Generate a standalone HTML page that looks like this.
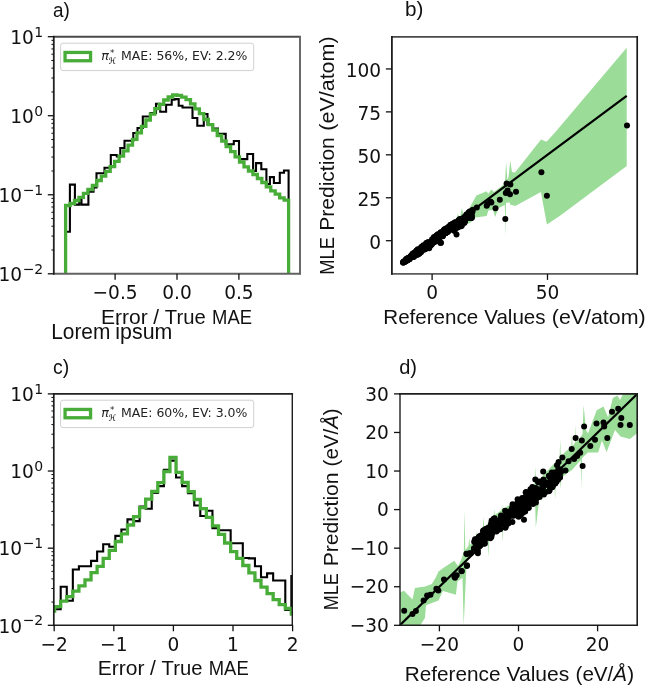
<!DOCTYPE html>
<html><head><meta charset="utf-8"><title>Figure</title>
<style>html,body{margin:0;padding:0;background:#fff;overflow:hidden;}svg{display:block;}</style>
</head><body>
<svg width="646" height="685" viewBox="0 0 646 685">
<rect width="646" height="685" fill="#fff"/>
<clipPath id="clipA"><rect x="53.8" y="36.7" width="246.2" height="237.1"/></clipPath>
<g clip-path="url(#clipA)" fill="none" stroke-linejoin="miter">
<path d="M65.6,275.8 L65.6,231.8 L69.9,231.8 L69.9,184.6 L74.9,184.6 L74.9,204.6 L79.3,204.6 L79.3,200 L81.5,200 L81.5,204.6 L88.4,204.6 L88.4,191.8 L93.5,191.8 L93.5,187.5 L96.5,187.5 L96.5,173.2 L104.5,173.2 L104.5,167.7 L110.8,167.7 L110.8,155 L116.8,155 L116.8,156.4 L120.3,156.4 L120.3,148 L124.5,148 L124.5,140.7 L133.3,140.7 L133.3,133 L137.5,133 L137.5,128 L142.8,128 L142.8,116.5 L150.5,116.5 L150.5,113 L156,113 L156,103.8 L160.2,103.8 L160.2,111.7 L166.1,111.7 L166.1,104.7 L171.7,104.7 L171.7,99.8 L174.5,99.8 L174.5,99.1 L178.7,99.1 L178.7,105.8 L182.5,105.8 L182.5,107.5 L192.5,107.5 L192.5,118 L197.3,118 L197.3,125.7 L203.8,125.7 L203.8,114 L207.5,114 L207.5,124.5 L212.8,124.5 L212.8,128.6 L218,128.6 L218,133.9 L225.7,133.9 L225.7,144.3 L233.8,144.3 L233.8,141 L239,141 L239,159.1 L247.3,159.1 L247.3,154 L253.1,154 L253.1,171 L256,171 L256,163.1 L261.3,163.1 L261.3,169.2 L266.4,169.2 L266.4,184 L269.9,184 L269.9,177.1 L273.9,177.1 L273.9,183 L279.8,183 L279.8,172.8 L284,172.8 L284,170.5 L288.6,170.5 L288.6,275.8" stroke="#000" stroke-width="2.1"/>
<path d="M65.6,275.8 L65.6,205.5 L70.06,205.5 L70.06,203.5 L74.52,203.5 L74.52,200.5 L78.98,200.5 L78.98,197.4 L83.44,197.4 L83.44,193.3 L87.9,193.3 L87.9,189.5 L92.36,189.5 L92.36,185.5 L96.82,185.5 L96.82,180.5 L101.28,180.5 L101.28,176.2 L105.74,176.2 L105.74,171.4 L110.2,171.4 L110.2,166.7 L114.66,166.7 L114.66,161.4 L119.12,161.4 L119.12,156.2 L123.58,156.2 L123.58,150.8 L128.04,150.8 L128.04,145.1 L132.5,145.1 L132.5,139.3 L136.96,139.3 L136.96,132.9 L141.42,132.9 L141.42,126.3 L145.88,126.3 L145.88,120 L150.34,120 L150.34,114.2 L154.8,114.2 L154.8,108.6 L159.26,108.6 L159.26,104.4 L163.72,104.4 L163.72,100 L168.18,100 L168.18,97 L172.64,97 L172.64,95 L177.1,95 L177.1,95.3 L181.56,95.3 L181.56,97.1 L186.02,97.1 L186.02,99.6 L190.48,99.6 L190.48,103.9 L194.94,103.9 L194.94,108.9 L199.4,108.9 L199.4,113.7 L203.86,113.7 L203.86,119.5 L208.32,119.5 L208.32,124.6 L212.78,124.6 L212.78,130 L217.24,130 L217.24,135.5 L221.7,135.5 L221.7,141 L226.16,141 L226.16,146.5 L230.62,146.5 L230.62,151.7 L235.08,151.7 L235.08,156.8 L239.54,156.8 L239.54,162 L244,162 L244,166.9 L248.46,166.9 L248.46,171 L252.92,171 L252.92,174.5 L257.38,174.5 L257.38,178.5 L261.84,178.5 L261.84,182.5 L266.3,182.5 L266.3,186.9 L270.76,186.9 L270.76,190.9 L275.22,190.9 L275.22,194.2 L279.68,194.2 L279.68,197.8 L284.14,197.8 L284.14,200.1 L288.6,200.1 L288.6,275.8" stroke="#48ac38" stroke-width="3.3"/>
</g>
<line x1="53" y1="36.7" x2="300.8" y2="36.7" stroke="#4a4a4a" stroke-width="1.9"/>
<line x1="53" y1="273.8" x2="300.8" y2="273.8" stroke="#626262" stroke-width="1.9"/>
<line x1="53.8" y1="35.9" x2="53.8" y2="274.6" stroke="#222" stroke-width="1.8"/>
<line x1="300" y1="35.9" x2="300" y2="274.6" stroke="#626262" stroke-width="1.9"/>
<line x1="115.1" y1="273.8" x2="115.1" y2="279.8" stroke="#111" stroke-width="1.3"/>
<text transform="translate(115.1 299.2) scale(1 1.035)" text-anchor="middle" font-family="'DejaVu Sans', sans-serif" font-size="18.6" fill="#111">−0.5</text>
<line x1="177" y1="273.8" x2="177" y2="279.8" stroke="#111" stroke-width="1.3"/>
<text transform="translate(177 299.2) scale(1 1.035)" text-anchor="middle" font-family="'DejaVu Sans', sans-serif" font-size="18.6" fill="#111">0.0</text>
<line x1="238.9" y1="273.8" x2="238.9" y2="279.8" stroke="#111" stroke-width="1.3"/>
<text transform="translate(238.9 299.2) scale(1 1.035)" text-anchor="middle" font-family="'DejaVu Sans', sans-serif" font-size="18.6" fill="#111">0.5</text>
<line x1="47.8" y1="36.7" x2="53.8" y2="36.7" stroke="#111" stroke-width="1.3"/>
<text transform="translate(43.2 43.9) scale(1 1.035)" text-anchor="end" font-family="'DejaVu Sans', sans-serif" font-size="18.6" fill="#111">10<tspan dx="0.4" dy="-7.0" font-size="14">1</tspan></text>
<line x1="47.8" y1="115.73" x2="53.8" y2="115.73" stroke="#111" stroke-width="1.3"/>
<text transform="translate(43.2 122.93) scale(1 1.035)" text-anchor="end" font-family="'DejaVu Sans', sans-serif" font-size="18.6" fill="#111">10<tspan dx="0.4" dy="-7.0" font-size="14">0</tspan></text>
<line x1="47.8" y1="194.77" x2="53.8" y2="194.77" stroke="#111" stroke-width="1.3"/>
<text transform="translate(43.2 201.97) scale(1 1.035)" text-anchor="end" font-family="'DejaVu Sans', sans-serif" font-size="18.6" fill="#111">10<tspan dx="0.4" dy="-7.0" font-size="14">−1</tspan></text>
<line x1="47.8" y1="273.8" x2="53.8" y2="273.8" stroke="#111" stroke-width="1.3"/>
<text transform="translate(43.2 281) scale(1 1.035)" text-anchor="end" font-family="'DejaVu Sans', sans-serif" font-size="18.6" fill="#111">10<tspan dx="0.4" dy="-7.0" font-size="14">−2</tspan></text>
<line x1="51.4" y1="250.01" x2="53.8" y2="250.01" stroke="#111" stroke-width="1"/>
<line x1="51.4" y1="236.09" x2="53.8" y2="236.09" stroke="#111" stroke-width="1"/>
<line x1="51.4" y1="226.22" x2="53.8" y2="226.22" stroke="#111" stroke-width="1"/>
<line x1="51.4" y1="218.56" x2="53.8" y2="218.56" stroke="#111" stroke-width="1"/>
<line x1="51.4" y1="212.3" x2="53.8" y2="212.3" stroke="#111" stroke-width="1"/>
<line x1="51.4" y1="207.01" x2="53.8" y2="207.01" stroke="#111" stroke-width="1"/>
<line x1="51.4" y1="202.43" x2="53.8" y2="202.43" stroke="#111" stroke-width="1"/>
<line x1="51.4" y1="198.38" x2="53.8" y2="198.38" stroke="#111" stroke-width="1"/>
<line x1="51.4" y1="170.98" x2="53.8" y2="170.98" stroke="#111" stroke-width="1"/>
<line x1="51.4" y1="157.06" x2="53.8" y2="157.06" stroke="#111" stroke-width="1"/>
<line x1="51.4" y1="147.18" x2="53.8" y2="147.18" stroke="#111" stroke-width="1"/>
<line x1="51.4" y1="139.52" x2="53.8" y2="139.52" stroke="#111" stroke-width="1"/>
<line x1="51.4" y1="133.27" x2="53.8" y2="133.27" stroke="#111" stroke-width="1"/>
<line x1="51.4" y1="127.98" x2="53.8" y2="127.98" stroke="#111" stroke-width="1"/>
<line x1="51.4" y1="123.39" x2="53.8" y2="123.39" stroke="#111" stroke-width="1"/>
<line x1="51.4" y1="119.35" x2="53.8" y2="119.35" stroke="#111" stroke-width="1"/>
<line x1="51.4" y1="91.94" x2="53.8" y2="91.94" stroke="#111" stroke-width="1"/>
<line x1="51.4" y1="78.02" x2="53.8" y2="78.02" stroke="#111" stroke-width="1"/>
<line x1="51.4" y1="68.15" x2="53.8" y2="68.15" stroke="#111" stroke-width="1"/>
<line x1="51.4" y1="60.49" x2="53.8" y2="60.49" stroke="#111" stroke-width="1"/>
<line x1="51.4" y1="54.23" x2="53.8" y2="54.23" stroke="#111" stroke-width="1"/>
<line x1="51.4" y1="48.94" x2="53.8" y2="48.94" stroke="#111" stroke-width="1"/>
<line x1="51.4" y1="44.36" x2="53.8" y2="44.36" stroke="#111" stroke-width="1"/>
<line x1="51.4" y1="40.32" x2="53.8" y2="40.32" stroke="#111" stroke-width="1"/>
<rect x="60.6" y="43.2" width="193.1" height="27.4" rx="2.5" fill="#fff" fill-opacity="0.8" stroke="#d0d0d0" stroke-width="1"/>
<rect x="65.05" y="52.45" width="25.5" height="8.3" fill="none" stroke="#48ac38" stroke-width="3.3"/>
<text x="101.3" y="60.2" font-size="12.6" font-style="italic" font-family="'DejaVu Sans', sans-serif" fill="#222">π</text>
<text x="109.9" y="55.6" font-size="8.8" font-family="'DejaVu Sans', sans-serif" fill="#222">*</text>
<text x="108.7" y="63.9" font-size="9" font-style="italic" font-weight="bold" textLength="7" lengthAdjust="spacingAndGlyphs" font-family="'DejaVu Sans', sans-serif" fill="#222">ℋ</text>
<text x="121.0" y="60.2" font-size="12.6" font-family="'DejaVu Sans', sans-serif" fill="#222" textLength="126.4" lengthAdjust="spacingAndGlyphs">MAE: 56%, EV: 2.2%</text>
<clipPath id="clipB"><rect x="391.9" y="36.9" width="245.3" height="237"/></clipPath>
<g clip-path="url(#clipB)">
<path d="M403,260.5 L440,233.5 L452,223.5 L456,221 L458,213.5 L459.5,219.5 L462,208.2 L463.5,216 L466,210 L467.5,214 L470,207 L476.7,195 L477.7,195.1 L486.6,191.3 L488.3,193.8 L491.3,189.6 L494,192 L501.5,186.2 L505,183 L506.1,161.2 L507.3,180 L508.5,177 L510.3,160.7 L512,172 L515,172.4 L541,139.4 L546.5,141.7 L555,132.4 L626.7,47.7 L626.7,165.9 L560,215.7 L546.9,224.6 L540.9,192.1 L515.3,206 L510.2,204.6 L509.3,202.3 L506,203 L505.4,236.6 L504.8,205 L498.3,208.2 L495.2,217.1 L493,210 L488.3,210.5 L486.7,215.9 L475.1,217.4 L471.3,222.1 L466.6,224.4 L462,226 L440,240 L403,265 Z" fill="#9bdc98"/>
<line x1="403.0" y1="262.3" x2="626.7" y2="95.9" stroke="#000" stroke-width="2.2"/>
<g fill="#000"><circle cx="403.02" cy="262.52" r="3.0"/><circle cx="403.15" cy="262.62" r="3.0"/><circle cx="403.3" cy="261.98" r="3.0"/><circle cx="403.46" cy="262.53" r="3.0"/><circle cx="403.62" cy="261.87" r="3.0"/><circle cx="403.79" cy="261.97" r="3.0"/><circle cx="403.97" cy="262.27" r="3.0"/><circle cx="404.14" cy="261.55" r="3.0"/><circle cx="404.32" cy="262.1" r="3.0"/><circle cx="404.5" cy="261.41" r="3.0"/><circle cx="404.68" cy="261.85" r="3.0"/><circle cx="404.86" cy="261.71" r="3.0"/><circle cx="405.05" cy="261.05" r="3.0"/><circle cx="405.23" cy="260.23" r="3.0"/><circle cx="405.42" cy="261.33" r="3.0"/><circle cx="405.61" cy="261.04" r="3.0"/><circle cx="405.8" cy="260.15" r="3.0"/><circle cx="405.99" cy="259.38" r="3.0"/><circle cx="406.19" cy="259.97" r="3.0"/><circle cx="406.38" cy="260.21" r="3.0"/><circle cx="406.58" cy="258.83" r="3.0"/><circle cx="406.77" cy="260.72" r="3.0"/><circle cx="406.97" cy="258.76" r="3.0"/><circle cx="407.17" cy="259.93" r="3.0"/><circle cx="407.37" cy="260.16" r="3.0"/><circle cx="407.57" cy="260.11" r="3.0"/><circle cx="407.77" cy="259.51" r="3.0"/><circle cx="407.97" cy="258.06" r="3.0"/><circle cx="408.17" cy="259.59" r="3.0"/><circle cx="408.37" cy="258.38" r="3.0"/><circle cx="408.58" cy="258.07" r="3.0"/><circle cx="408.78" cy="258.68" r="3.0"/><circle cx="408.99" cy="258.03" r="3.0"/><circle cx="409.19" cy="259.33" r="3.0"/><circle cx="409.4" cy="259.22" r="3.0"/><circle cx="409.6" cy="258.65" r="3.0"/><circle cx="409.81" cy="257.02" r="3.0"/><circle cx="410.02" cy="257.68" r="3.0"/><circle cx="410.23" cy="257.92" r="3.0"/><circle cx="410.44" cy="256.87" r="3.0"/><circle cx="410.64" cy="257.17" r="3.0"/><circle cx="410.85" cy="257.57" r="3.0"/><circle cx="411.07" cy="255.67" r="3.0"/><circle cx="411.28" cy="255.85" r="3.0"/><circle cx="411.49" cy="257.37" r="3.0"/><circle cx="411.7" cy="255.99" r="3.0"/><circle cx="411.91" cy="256.03" r="3.0"/><circle cx="412.12" cy="254.51" r="3.0"/><circle cx="412.34" cy="254.92" r="3.0"/><circle cx="412.55" cy="256.53" r="3.0"/><circle cx="412.77" cy="253.56" r="3.0"/><circle cx="412.98" cy="256.97" r="3.0"/><circle cx="413.2" cy="255.57" r="3.0"/><circle cx="413.41" cy="253.97" r="3.0"/><circle cx="413.63" cy="256.45" r="3.0"/><circle cx="413.84" cy="254.82" r="3.0"/><circle cx="414.06" cy="256.7" r="3.0"/><circle cx="414.28" cy="253.7" r="3.0"/><circle cx="414.49" cy="253.09" r="3.0"/><circle cx="414.71" cy="253.82" r="3.0"/><circle cx="414.93" cy="252.22" r="3.0"/><circle cx="415.15" cy="254.77" r="3.0"/><circle cx="415.37" cy="252.75" r="3.0"/><circle cx="415.59" cy="253.08" r="3.0"/><circle cx="415.81" cy="253" r="3.0"/><circle cx="416.03" cy="253.47" r="3.0"/><circle cx="416.25" cy="251.32" r="3.0"/><circle cx="416.47" cy="250.59" r="3.0"/><circle cx="416.69" cy="252.92" r="3.0"/><circle cx="416.91" cy="251.74" r="3.0"/><circle cx="417.13" cy="254.89" r="3.0"/><circle cx="417.35" cy="251.2" r="3.0"/><circle cx="417.58" cy="251.34" r="3.0"/><circle cx="417.8" cy="249.2" r="3.0"/><circle cx="418.02" cy="250" r="3.0"/><circle cx="418.24" cy="252.96" r="3.0"/><circle cx="418.47" cy="252.2" r="3.0"/><circle cx="418.69" cy="250.38" r="3.0"/><circle cx="418.92" cy="253.99" r="3.0"/><circle cx="419.14" cy="251.26" r="3.0"/><circle cx="419.36" cy="252.8" r="3.0"/><circle cx="419.59" cy="252.93" r="3.0"/><circle cx="419.81" cy="253.11" r="3.0"/><circle cx="420.04" cy="248.8" r="3.0"/><circle cx="420.27" cy="252.36" r="3.0"/><circle cx="420.49" cy="251.5" r="3.0"/><circle cx="420.72" cy="250.49" r="3.0"/><circle cx="420.94" cy="247.52" r="3.0"/><circle cx="421.17" cy="251.97" r="3.0"/><circle cx="421.4" cy="249.65" r="3.0"/><circle cx="421.63" cy="248.89" r="3.0"/><circle cx="421.85" cy="246.77" r="3.0"/><circle cx="422.08" cy="246.98" r="3.0"/><circle cx="422.31" cy="246.55" r="3.0"/><circle cx="422.54" cy="249.8" r="3.0"/><circle cx="422.77" cy="248.83" r="3.0"/><circle cx="422.99" cy="248.99" r="3.0"/><circle cx="423.22" cy="245.75" r="3.0"/><circle cx="423.45" cy="245.15" r="3.0"/><circle cx="423.68" cy="249.69" r="3.0"/><circle cx="423.91" cy="249.37" r="3.0"/><circle cx="424.14" cy="248.87" r="3.0"/><circle cx="424.37" cy="248.7" r="3.0"/><circle cx="424.6" cy="247.05" r="3.0"/><circle cx="424.83" cy="246.27" r="3.0"/><circle cx="425.06" cy="248.01" r="3.0"/><circle cx="425.3" cy="249.35" r="3.0"/><circle cx="425.53" cy="246.75" r="3.0"/><circle cx="425.76" cy="246.87" r="3.0"/><circle cx="425.99" cy="245.55" r="3.0"/><circle cx="426.22" cy="243.12" r="3.0"/><circle cx="426.45" cy="244.48" r="3.0"/><circle cx="426.69" cy="245.33" r="3.0"/><circle cx="426.92" cy="244.56" r="3.0"/><circle cx="427.15" cy="244.04" r="3.0"/><circle cx="427.38" cy="247.5" r="3.0"/><circle cx="427.62" cy="242.39" r="3.0"/><circle cx="427.85" cy="242.91" r="3.0"/><circle cx="428.08" cy="242.19" r="3.0"/><circle cx="428.32" cy="242.46" r="3.0"/><circle cx="428.55" cy="244.66" r="3.0"/><circle cx="428.79" cy="244.44" r="3.0"/><circle cx="429.02" cy="245.99" r="3.0"/><circle cx="429.26" cy="242.72" r="3.0"/><circle cx="429.49" cy="245.89" r="3.0"/><circle cx="429.72" cy="245.68" r="3.0"/><circle cx="429.96" cy="244.68" r="3.0"/><circle cx="430.2" cy="244.78" r="3.0"/><circle cx="430.43" cy="243.56" r="3.0"/><circle cx="430.67" cy="245.07" r="3.0"/><circle cx="430.9" cy="245.2" r="3.0"/><circle cx="431.14" cy="244.14" r="3.0"/><circle cx="431.37" cy="244.25" r="3.0"/><circle cx="431.61" cy="242.55" r="3.0"/><circle cx="431.85" cy="244.35" r="3.0"/><circle cx="432.08" cy="239.21" r="3.0"/><circle cx="432.32" cy="240.56" r="3.0"/><circle cx="432.56" cy="243.1" r="3.0"/><circle cx="432.8" cy="242.32" r="3.0"/><circle cx="433.03" cy="241.58" r="3.0"/><circle cx="433.27" cy="241.31" r="3.0"/><circle cx="433.51" cy="242.54" r="3.0"/><circle cx="433.75" cy="238.12" r="3.0"/><circle cx="433.98" cy="237.11" r="3.0"/><circle cx="434.22" cy="240.01" r="3.0"/><circle cx="434.46" cy="239.72" r="3.0"/><circle cx="434.7" cy="241.87" r="3.0"/><circle cx="434.94" cy="241.6" r="3.0"/><circle cx="435.18" cy="240.02" r="3.0"/><circle cx="435.42" cy="240.29" r="3.0"/><circle cx="435.66" cy="236.82" r="3.0"/><circle cx="435.9" cy="240.54" r="3.0"/><circle cx="436.13" cy="241.17" r="3.0"/><circle cx="436.37" cy="235.57" r="3.0"/><circle cx="436.61" cy="237.86" r="3.0"/><circle cx="436.85" cy="239.91" r="3.0"/><circle cx="437.09" cy="237.42" r="3.0"/><circle cx="437.33" cy="240.25" r="3.0"/><circle cx="437.58" cy="237.15" r="3.0"/><circle cx="437.82" cy="234.34" r="3.0"/><circle cx="438.06" cy="234.83" r="3.0"/><circle cx="438.3" cy="235.63" r="3.0"/><circle cx="438.54" cy="237.99" r="3.0"/><circle cx="438.78" cy="237.19" r="3.0"/><circle cx="439.02" cy="238.18" r="3.0"/><circle cx="439.26" cy="234.47" r="3.0"/><circle cx="439.5" cy="235.69" r="3.0"/><circle cx="439.75" cy="234.07" r="3.0"/><circle cx="439.99" cy="236.51" r="3.0"/><circle cx="440.23" cy="236.95" r="3.0"/><circle cx="440.47" cy="233.34" r="3.0"/><circle cx="440.72" cy="232.14" r="3.0"/><circle cx="440.96" cy="232.74" r="3.0"/><circle cx="441.2" cy="232.83" r="3.0"/><circle cx="441.44" cy="232.57" r="3.0"/><circle cx="441.69" cy="232.85" r="3.0"/><circle cx="441.93" cy="235.67" r="3.0"/><circle cx="442.17" cy="233.79" r="3.0"/><circle cx="442.42" cy="234.55" r="3.0"/><circle cx="442.66" cy="236.28" r="3.0"/><circle cx="442.9" cy="236.1" r="3.0"/><circle cx="443.15" cy="234.45" r="3.0"/><circle cx="443.39" cy="234.39" r="3.0"/><circle cx="443.64" cy="231.68" r="3.0"/><circle cx="443.88" cy="229.95" r="3.0"/><circle cx="444.12" cy="232.75" r="3.0"/><circle cx="444.37" cy="229.7" r="3.0"/><circle cx="444.61" cy="229.22" r="3.0"/><circle cx="444.86" cy="229.24" r="3.0"/><circle cx="445.1" cy="232.5" r="3.0"/><circle cx="445.35" cy="233.16" r="3.0"/><circle cx="445.59" cy="232.94" r="3.0"/><circle cx="445.84" cy="232.93" r="3.0"/><circle cx="446.08" cy="232.71" r="3.0"/><circle cx="446.33" cy="230.07" r="3.0"/><circle cx="446.57" cy="228.28" r="3.0"/><circle cx="446.82" cy="228.44" r="3.0"/><circle cx="447.07" cy="230.37" r="3.0"/><circle cx="447.31" cy="229.17" r="3.0"/><circle cx="447.56" cy="228.13" r="3.0"/><circle cx="447.8" cy="232.12" r="3.0"/><circle cx="448.05" cy="228.58" r="3.0"/><circle cx="448.3" cy="226.94" r="3.0"/><circle cx="448.54" cy="227.5" r="3.0"/><circle cx="448.79" cy="227.5" r="3.0"/><circle cx="449.04" cy="228.91" r="3.0"/><circle cx="449.28" cy="230.48" r="3.0"/><circle cx="449.53" cy="226.73" r="3.0"/><circle cx="449.78" cy="229.21" r="3.0"/><circle cx="450.03" cy="226.29" r="3.0"/><circle cx="450.27" cy="225.11" r="3.0"/><circle cx="450.52" cy="228.29" r="3.0"/><circle cx="450.77" cy="228.07" r="3.0"/><circle cx="451.02" cy="224.7" r="3.0"/><circle cx="451.27" cy="225.81" r="3.0"/><circle cx="451.51" cy="228.87" r="3.0"/><circle cx="451.76" cy="228.93" r="3.0"/><circle cx="452.01" cy="228.61" r="3.0"/><circle cx="452.26" cy="224.02" r="3.0"/><circle cx="452.51" cy="224.41" r="3.0"/><circle cx="452.76" cy="228.08" r="3.0"/><circle cx="453" cy="225.12" r="3.0"/><circle cx="453.25" cy="223.59" r="3.0"/><circle cx="453.5" cy="226.23" r="3.0"/><circle cx="453.75" cy="228.73" r="3.0"/><circle cx="454" cy="226.81" r="3.0"/><circle cx="454.25" cy="230.28" r="3.0"/><circle cx="454.5" cy="231.12" r="3.0"/><circle cx="454.75" cy="222.55" r="3.0"/><circle cx="455" cy="225.18" r="3.0"/><circle cx="455.25" cy="226.08" r="3.0"/><circle cx="455.5" cy="222.32" r="3.0"/><circle cx="455.75" cy="226.52" r="3.0"/><circle cx="456" cy="222.49" r="3.0"/><circle cx="456.25" cy="222.71" r="3.0"/><circle cx="456.5" cy="227.91" r="3.0"/><circle cx="456.75" cy="227.36" r="3.0"/><circle cx="457" cy="226.82" r="3.0"/><circle cx="457.25" cy="227.09" r="3.0"/><circle cx="457.5" cy="223.87" r="3.0"/><circle cx="457.75" cy="226.55" r="3.0"/><circle cx="458" cy="224.97" r="3.0"/><circle cx="458.25" cy="227.3" r="3.0"/><circle cx="458.5" cy="220.29" r="3.0"/><circle cx="458.75" cy="224.98" r="3.0"/><circle cx="459.01" cy="223.88" r="3.0"/><circle cx="459.26" cy="222.59" r="3.0"/><circle cx="459.51" cy="219.59" r="3.0"/><circle cx="459.76" cy="223.64" r="3.0"/><circle cx="460.01" cy="219.1" r="3.0"/><circle cx="460.26" cy="222.56" r="3.0"/><circle cx="460.52" cy="222.11" r="3.0"/><circle cx="460.77" cy="221.99" r="3.0"/><circle cx="461.02" cy="226.23" r="3.0"/><circle cx="461.27" cy="222.35" r="3.0"/><circle cx="461.52" cy="224.41" r="3.0"/><circle cx="461.78" cy="225.79" r="3.0"/><circle cx="462.03" cy="218.64" r="3.0"/><circle cx="462.28" cy="223.94" r="3.0"/><circle cx="462.54" cy="221.12" r="3.0"/><circle cx="462.79" cy="218.72" r="3.0"/><circle cx="463.04" cy="220.01" r="3.0"/><circle cx="463.29" cy="221.84" r="3.0"/><circle cx="463.55" cy="219.97" r="3.0"/><circle cx="463.8" cy="219.46" r="3.0"/><circle cx="464.05" cy="217.26" r="3.0"/><circle cx="464.31" cy="223.02" r="3.0"/><circle cx="464.56" cy="218.85" r="3.0"/><circle cx="464.81" cy="221.39" r="3.0"/><circle cx="465.07" cy="220.95" r="3.0"/><circle cx="465.32" cy="216.43" r="3.0"/><circle cx="465.58" cy="218.55" r="3.0"/><circle cx="465.83" cy="217.89" r="3.0"/><circle cx="466.08" cy="215.97" r="3.0"/><circle cx="466.34" cy="214.44" r="3.0"/><circle cx="466.59" cy="218.36" r="3.0"/><circle cx="466.85" cy="216.69" r="3.0"/><circle cx="467.1" cy="217.44" r="3.0"/><circle cx="467.36" cy="217.19" r="3.0"/><circle cx="467.61" cy="215.42" r="3.0"/><circle cx="467.86" cy="217.34" r="3.0"/><circle cx="468.12" cy="216.44" r="3.0"/><circle cx="468.37" cy="216.73" r="3.0"/><circle cx="468.63" cy="212.48" r="3.0"/><circle cx="468.88" cy="214.41" r="3.0"/><circle cx="469.14" cy="212.67" r="3.0"/><circle cx="469.39" cy="211.91" r="3.0"/><circle cx="469.65" cy="217.7" r="3.0"/><circle cx="469.91" cy="214.88" r="3.0"/><circle cx="470.16" cy="211.33" r="3.0"/><circle cx="470.42" cy="212.04" r="3.0"/><circle cx="470.67" cy="218.01" r="3.0"/><circle cx="470.93" cy="217.95" r="3.0"/><circle cx="471.18" cy="214.96" r="3.0"/><circle cx="471.44" cy="218" r="3.0"/><circle cx="471.7" cy="216.34" r="3.0"/><circle cx="471.95" cy="217.62" r="3.0"/><circle cx="472.21" cy="212.2" r="3.0"/><circle cx="472.46" cy="211.01" r="3.0"/><circle cx="472.72" cy="209.83" r="3.0"/><circle cx="627" cy="125.5" r="3.0"/><circle cx="541.4" cy="172.2" r="3.0"/><circle cx="546.9" cy="195.8" r="3.0"/><circle cx="505.3" cy="219" r="3.0"/><circle cx="495.5" cy="208.3" r="3.0"/><circle cx="499.8" cy="199.8" r="3.0"/><circle cx="487.5" cy="204.1" r="3.0"/><circle cx="490.4" cy="201.5" r="3.0"/><circle cx="486.7" cy="205.8" r="3.0"/><circle cx="491.4" cy="202.4" r="3.0"/><circle cx="476.8" cy="207.5" r="3.0"/><circle cx="471.7" cy="215.1" r="3.0"/><circle cx="506.6" cy="183.6" r="3.0"/><circle cx="510.4" cy="184.5" r="3.0"/><circle cx="505.8" cy="193" r="3.0"/><circle cx="510" cy="194.3" r="3.0"/><circle cx="507.5" cy="190.4" r="3.0"/><circle cx="516" cy="191.7" r="3.0"/><circle cx="456.5" cy="234.6" r="3.0"/><circle cx="441" cy="242.8" r="3.0"/><circle cx="440.5" cy="242.9" r="3.0"/><circle cx="429.2" cy="248.3" r="3.0"/></g>
</g>
<line x1="391.1" y1="36.9" x2="638" y2="36.9" stroke="#4a4a4a" stroke-width="1.9"/>
<line x1="391.1" y1="273.9" x2="638" y2="273.9" stroke="#5c5c5c" stroke-width="1.9"/>
<line x1="391.9" y1="36.1" x2="391.9" y2="274.7" stroke="#1e1e1e" stroke-width="1.8"/>
<line x1="637.2" y1="36.1" x2="637.2" y2="274.7" stroke="#1a1a1a" stroke-width="1.7"/>
<line x1="432.1" y1="273.9" x2="432.1" y2="279.9" stroke="#111" stroke-width="1.3"/>
<text transform="translate(432.1 299.3) scale(1 1.035)" text-anchor="middle" font-family="'DejaVu Sans', sans-serif" font-size="18.6" fill="#111">0</text>
<line x1="547.5" y1="273.9" x2="547.5" y2="279.9" stroke="#111" stroke-width="1.3"/>
<text transform="translate(547.5 299.3) scale(1 1.035)" text-anchor="middle" font-family="'DejaVu Sans', sans-serif" font-size="18.6" fill="#111">50</text>
<line x1="385.9" y1="240.7" x2="391.9" y2="240.7" stroke="#111" stroke-width="1.3"/>
<text transform="translate(381.1 248.7) scale(1 1.035)" text-anchor="end" font-family="'DejaVu Sans', sans-serif" font-size="18.6" fill="#111">0</text>
<line x1="385.9" y1="197.76" x2="391.9" y2="197.76" stroke="#111" stroke-width="1.3"/>
<text transform="translate(381.1 205.76) scale(1 1.035)" text-anchor="end" font-family="'DejaVu Sans', sans-serif" font-size="18.6" fill="#111">25</text>
<line x1="385.9" y1="154.82" x2="391.9" y2="154.82" stroke="#111" stroke-width="1.3"/>
<text transform="translate(381.1 162.82) scale(1 1.035)" text-anchor="end" font-family="'DejaVu Sans', sans-serif" font-size="18.6" fill="#111">50</text>
<line x1="385.9" y1="111.88" x2="391.9" y2="111.88" stroke="#111" stroke-width="1.3"/>
<text transform="translate(381.1 119.88) scale(1 1.035)" text-anchor="end" font-family="'DejaVu Sans', sans-serif" font-size="18.6" fill="#111">75</text>
<line x1="385.9" y1="68.94" x2="391.9" y2="68.94" stroke="#111" stroke-width="1.3"/>
<text transform="translate(381.1 76.94) scale(1 1.035)" text-anchor="end" font-family="'DejaVu Sans', sans-serif" font-size="18.6" fill="#111">100</text>
<clipPath id="clipC"><rect x="53.8" y="393.9" width="238.5" height="231.4"/></clipPath>
<g clip-path="url(#clipC)" fill="none" stroke-linejoin="miter">
<path d="M46.63,610 L54.63,610 L54.63,609.3 L60.7,609.3 L60.7,586.7 L66.77,586.7 L66.77,600.7 L72.84,600.7 L72.84,569.5 L78.91,569.5 L78.91,566.3 L84.98,566.3 L84.98,566.3 L91.05,566.3 L91.05,560.9 L97.12,560.9 L97.12,551.5 L103.19,551.5 L103.19,544.3 L109.26,544.3 L109.26,546.7 L115.33,546.7 L115.33,535.9 L121.4,535.9 L121.4,529.5 L127.47,529.5 L127.47,519.4 L133.54,519.4 L133.54,521.1 L139.61,521.1 L139.61,506.5 L145.68,506.5 L145.68,508.7 L151.75,508.7 L151.75,493 L157.82,493 L157.82,486.1 L163.89,486.1 L163.89,469.7 L169.96,469.7 L169.96,460.6 L176.03,460.6 L176.03,477.5 L182.1,477.5 L182.1,486.1 L188.17,486.1 L188.17,493.1 L194.24,493.1 L194.24,505.5 L200.31,505.5 L200.31,516 L206.38,516 L206.38,510.8 L212.45,510.8 L212.45,528.1 L218.52,528.1 L218.52,530.3 L224.59,530.3 L224.59,530.3 L230.66,530.3 L230.66,543.2 L236.73,543.2 L236.73,543.2 L242.8,543.2 L242.8,558 L248.87,558 L248.87,558.4 L254.94,558.4 L254.94,566.3 L261.01,566.3 L261.01,577.2 L267.08,577.2 L267.08,573.4 L273.15,573.4 L273.15,580.5 L279.22,580.5 L279.22,580.5 L285.29,580.5 L285.29,610 L291.36,610 L291.36,576 L297.43,576" stroke="#000" stroke-width="2.1"/>
<path d="M46.63,611 L54.63,611 L54.63,606.6 L60.7,606.6 L60.7,601.1 L66.77,601.1 L66.77,596.6 L72.84,596.6 L72.84,591.2 L78.91,591.2 L78.91,585.8 L84.98,585.8 L84.98,579.9 L91.05,579.9 L91.05,572.6 L97.12,572.6 L97.12,566.4 L103.19,566.4 L103.19,558.4 L109.26,558.4 L109.26,550.3 L115.33,550.3 L115.33,541.5 L121.4,541.5 L121.4,533.9 L127.47,533.9 L127.47,525 L133.54,525 L133.54,516.7 L139.61,516.7 L139.61,507.6 L145.68,507.6 L145.68,499.2 L151.75,499.2 L151.75,491.5 L157.82,491.5 L157.82,482.7 L163.89,482.7 L163.89,471.5 L169.96,471.5 L169.96,457.3 L176.03,457.3 L176.03,472.3 L182.1,472.3 L182.1,482.5 L188.17,482.5 L188.17,491.6 L194.24,491.6 L194.24,499.5 L200.31,499.5 L200.31,508.7 L206.38,508.7 L206.38,517.4 L212.45,517.4 L212.45,525.8 L218.52,525.8 L218.52,534.3 L224.59,534.3 L224.59,543 L230.66,543 L230.66,551.6 L236.73,551.6 L236.73,558.4 L242.8,558.4 L242.8,565.5 L248.87,565.5 L248.87,572.8 L254.94,572.8 L254.94,580.5 L261.01,580.5 L261.01,587.1 L267.08,587.1 L267.08,593.7 L273.15,593.7 L273.15,599.7 L279.22,599.7 L279.22,604.6 L285.29,604.6 L285.29,608.5 L291.36,608.5 L291.36,614 L297.43,614" stroke="#48ac38" stroke-width="3.3"/>
</g>
<line x1="53" y1="393.9" x2="293.1" y2="393.9" stroke="#222" stroke-width="1.7"/>
<line x1="53" y1="625.3" x2="293.1" y2="625.3" stroke="#1e1e1e" stroke-width="1.4"/>
<line x1="53.8" y1="393.1" x2="53.8" y2="626.1" stroke="#1e1e1e" stroke-width="1.7"/>
<line x1="292.3" y1="393.1" x2="292.3" y2="626.1" stroke="#1e1e1e" stroke-width="1.4"/>
<line x1="54.2" y1="625.3" x2="54.2" y2="631.3" stroke="#111" stroke-width="1.3"/>
<text transform="translate(54.2 651.2) scale(1 1.035)" text-anchor="middle" font-family="'DejaVu Sans', sans-serif" font-size="18.6" fill="#111">−2</text>
<line x1="113.8" y1="625.3" x2="113.8" y2="631.3" stroke="#111" stroke-width="1.3"/>
<text transform="translate(113.8 651.2) scale(1 1.035)" text-anchor="middle" font-family="'DejaVu Sans', sans-serif" font-size="18.6" fill="#111">−1</text>
<line x1="173.4" y1="625.3" x2="173.4" y2="631.3" stroke="#111" stroke-width="1.3"/>
<text transform="translate(173.4 651.2) scale(1 1.035)" text-anchor="middle" font-family="'DejaVu Sans', sans-serif" font-size="18.6" fill="#111">0</text>
<line x1="233" y1="625.3" x2="233" y2="631.3" stroke="#111" stroke-width="1.3"/>
<text transform="translate(233 651.2) scale(1 1.035)" text-anchor="middle" font-family="'DejaVu Sans', sans-serif" font-size="18.6" fill="#111">1</text>
<line x1="292.6" y1="625.3" x2="292.6" y2="631.3" stroke="#111" stroke-width="1.3"/>
<text transform="translate(292.6 651.2) scale(1 1.035)" text-anchor="middle" font-family="'DejaVu Sans', sans-serif" font-size="18.6" fill="#111">2</text>
<line x1="47.8" y1="393.9" x2="53.8" y2="393.9" stroke="#111" stroke-width="1.3"/>
<text transform="translate(43.2 401.1) scale(1 1.035)" text-anchor="end" font-family="'DejaVu Sans', sans-serif" font-size="18.6" fill="#111">10<tspan dx="0.4" dy="-7.0" font-size="14">1</tspan></text>
<line x1="47.8" y1="471.03" x2="53.8" y2="471.03" stroke="#111" stroke-width="1.3"/>
<text transform="translate(43.2 478.23) scale(1 1.035)" text-anchor="end" font-family="'DejaVu Sans', sans-serif" font-size="18.6" fill="#111">10<tspan dx="0.4" dy="-7.0" font-size="14">0</tspan></text>
<line x1="47.8" y1="548.17" x2="53.8" y2="548.17" stroke="#111" stroke-width="1.3"/>
<text transform="translate(43.2 555.37) scale(1 1.035)" text-anchor="end" font-family="'DejaVu Sans', sans-serif" font-size="18.6" fill="#111">10<tspan dx="0.4" dy="-7.0" font-size="14">−1</tspan></text>
<line x1="47.8" y1="625.3" x2="53.8" y2="625.3" stroke="#111" stroke-width="1.3"/>
<text transform="translate(43.2 632.5) scale(1 1.035)" text-anchor="end" font-family="'DejaVu Sans', sans-serif" font-size="18.6" fill="#111">10<tspan dx="0.4" dy="-7.0" font-size="14">−2</tspan></text>
<line x1="51.4" y1="602.08" x2="53.8" y2="602.08" stroke="#111" stroke-width="1"/>
<line x1="51.4" y1="588.5" x2="53.8" y2="588.5" stroke="#111" stroke-width="1"/>
<line x1="51.4" y1="578.86" x2="53.8" y2="578.86" stroke="#111" stroke-width="1"/>
<line x1="51.4" y1="571.39" x2="53.8" y2="571.39" stroke="#111" stroke-width="1"/>
<line x1="51.4" y1="565.28" x2="53.8" y2="565.28" stroke="#111" stroke-width="1"/>
<line x1="51.4" y1="560.11" x2="53.8" y2="560.11" stroke="#111" stroke-width="1"/>
<line x1="51.4" y1="555.64" x2="53.8" y2="555.64" stroke="#111" stroke-width="1"/>
<line x1="51.4" y1="551.7" x2="53.8" y2="551.7" stroke="#111" stroke-width="1"/>
<line x1="51.4" y1="524.95" x2="53.8" y2="524.95" stroke="#111" stroke-width="1"/>
<line x1="51.4" y1="511.36" x2="53.8" y2="511.36" stroke="#111" stroke-width="1"/>
<line x1="51.4" y1="501.73" x2="53.8" y2="501.73" stroke="#111" stroke-width="1"/>
<line x1="51.4" y1="494.25" x2="53.8" y2="494.25" stroke="#111" stroke-width="1"/>
<line x1="51.4" y1="488.15" x2="53.8" y2="488.15" stroke="#111" stroke-width="1"/>
<line x1="51.4" y1="482.98" x2="53.8" y2="482.98" stroke="#111" stroke-width="1"/>
<line x1="51.4" y1="478.51" x2="53.8" y2="478.51" stroke="#111" stroke-width="1"/>
<line x1="51.4" y1="474.56" x2="53.8" y2="474.56" stroke="#111" stroke-width="1"/>
<line x1="51.4" y1="447.81" x2="53.8" y2="447.81" stroke="#111" stroke-width="1"/>
<line x1="51.4" y1="434.23" x2="53.8" y2="434.23" stroke="#111" stroke-width="1"/>
<line x1="51.4" y1="424.59" x2="53.8" y2="424.59" stroke="#111" stroke-width="1"/>
<line x1="51.4" y1="417.12" x2="53.8" y2="417.12" stroke="#111" stroke-width="1"/>
<line x1="51.4" y1="411.01" x2="53.8" y2="411.01" stroke="#111" stroke-width="1"/>
<line x1="51.4" y1="405.85" x2="53.8" y2="405.85" stroke="#111" stroke-width="1"/>
<line x1="51.4" y1="401.37" x2="53.8" y2="401.37" stroke="#111" stroke-width="1"/>
<line x1="51.4" y1="397.43" x2="53.8" y2="397.43" stroke="#111" stroke-width="1"/>
<rect x="60.6" y="400.2" width="193.1" height="27.4" rx="2.5" fill="#fff" fill-opacity="0.8" stroke="#d0d0d0" stroke-width="1"/>
<rect x="65.05" y="409.45" width="25.5" height="8.3" fill="none" stroke="#48ac38" stroke-width="3.3"/>
<text x="101.3" y="417.2" font-size="12.6" font-style="italic" font-family="'DejaVu Sans', sans-serif" fill="#222">π</text>
<text x="109.9" y="412.6" font-size="8.8" font-family="'DejaVu Sans', sans-serif" fill="#222">*</text>
<text x="108.7" y="420.9" font-size="9" font-style="italic" font-weight="bold" textLength="7" lengthAdjust="spacingAndGlyphs" font-family="'DejaVu Sans', sans-serif" fill="#222">ℋ</text>
<text x="121.0" y="417.2" font-size="12.6" font-family="'DejaVu Sans', sans-serif" fill="#222" textLength="126.4" lengthAdjust="spacingAndGlyphs">MAE: 60%, EV: 3.0%</text>
<clipPath id="clipD"><rect x="400" y="393.9" width="237.2" height="231.4"/></clipPath>
<g clip-path="url(#clipD)">
<path d="M399,592.8 L403.9,590.8 L412.5,599.5 L414.9,587.9 L425,586.5 L431.8,584.1 L435.6,577.8 L438.5,571.6 L442.9,568.2 L444,567.6 L454.2,560.8 L458,566 L461,560 L463.8,552 L464.6,509.4 L465.3,550 L468.5,546 L469.2,537.8 L470,545 L475.5,540 L476.3,531.3 L477,538 L482.7,530 L483.4,517 L484.2,528 L493.6,516 L494.2,509.2 L494.8,515 L501.5,510 L502,504.8 L502.6,509 L520,499 L534.6,484 L535.3,466.3 L536,483 L550,468 L559.6,458 L560.2,438.7 L560.8,457 L565,452 L571.3,447 L571.9,433.6 L572.5,446 L575,443 L575.5,424.1 L576.1,442 L580,438 L582.5,434 L583.6,405.1 L586,430 L588,433.6 L596.7,410.2 L603.5,406.4 L608.1,417.2 L612.8,397.9 L617.4,395.5 L620,400 L624,392 L640,380 L640,431 L629.8,438.9 L620.5,436.6 L615,430 L606.6,452 L601.9,440.4 L598.2,452.6 L588,452.6 L582,458 L581.4,489 L580.8,460 L572,470 L567.5,473 L561,478 L560.2,489 L559.6,479 L555.7,484 L555.1,500 L554.5,486 L550,490 L545,492 L540,494 L535.8,527.6 L535,497 L520,511 L503,527 L502.5,543.4 L502,528 L489,540 L488.3,557.4 L487.6,541 L476,551 L470,556 L467,562 L466,575 L463.7,626 L462.5,578 L457.6,581.1 L455.9,594.7 L444,591.3 L442.9,590.8 L438.5,600.5 L426,605.3 L425,617.8 L419.3,627 L399,627 Z" fill="#9bdc98"/>
<line x1="399.8" y1="625.3" x2="637.3" y2="393.9" stroke="#000" stroke-width="2.2"/>
<g fill="#000"><circle cx="512.38" cy="522" r="3.0"/><circle cx="513.53" cy="515.48" r="3.0"/><circle cx="517.2" cy="511.16" r="3.0"/><circle cx="517.56" cy="509.93" r="3.0"/><circle cx="527.82" cy="499.42" r="3.0"/><circle cx="499.42" cy="525.39" r="3.0"/><circle cx="480.91" cy="536.34" r="3.0"/><circle cx="476.66" cy="547.45" r="3.0"/><circle cx="558.48" cy="469.97" r="3.0"/><circle cx="526.58" cy="502.39" r="3.0"/><circle cx="486.72" cy="528.6" r="3.0"/><circle cx="478.2" cy="540.57" r="3.0"/><circle cx="489.57" cy="531.6" r="3.0"/><circle cx="513.38" cy="510.82" r="3.0"/><circle cx="511.35" cy="510.66" r="3.0"/><circle cx="528.73" cy="503.68" r="3.0"/><circle cx="516.5" cy="511.89" r="3.0"/><circle cx="497.22" cy="529.49" r="3.0"/><circle cx="559.82" cy="469.47" r="3.0"/><circle cx="534.6" cy="494.55" r="3.0"/><circle cx="500.45" cy="522.17" r="3.0"/><circle cx="479.13" cy="536.67" r="3.0"/><circle cx="539.69" cy="497.07" r="3.0"/><circle cx="506.65" cy="512.47" r="3.0"/><circle cx="556.38" cy="476.19" r="3.0"/><circle cx="491.27" cy="530.37" r="3.0"/><circle cx="552.22" cy="487.13" r="3.0"/><circle cx="507.6" cy="514.38" r="3.0"/><circle cx="479.37" cy="545.4" r="3.0"/><circle cx="496.49" cy="531.51" r="3.0"/><circle cx="480.6" cy="544.76" r="3.0"/><circle cx="538.97" cy="481.44" r="3.0"/><circle cx="483.28" cy="536.82" r="3.0"/><circle cx="478.23" cy="539.01" r="3.0"/><circle cx="542.37" cy="485.4" r="3.0"/><circle cx="511.95" cy="508" r="3.0"/><circle cx="489.61" cy="531.89" r="3.0"/><circle cx="529.03" cy="501.28" r="3.0"/><circle cx="483.15" cy="539.67" r="3.0"/><circle cx="496.49" cy="524.45" r="3.0"/><circle cx="557.5" cy="474.1" r="3.0"/><circle cx="550.01" cy="485.12" r="3.0"/><circle cx="491.35" cy="537.03" r="3.0"/><circle cx="528.86" cy="493.71" r="3.0"/><circle cx="481.75" cy="535.07" r="3.0"/><circle cx="495.49" cy="526.95" r="3.0"/><circle cx="540.25" cy="491.41" r="3.0"/><circle cx="479.4" cy="536.81" r="3.0"/><circle cx="480.86" cy="541.75" r="3.0"/><circle cx="525.34" cy="503.65" r="3.0"/><circle cx="505.36" cy="527.82" r="3.0"/><circle cx="515.11" cy="507.23" r="3.0"/><circle cx="523.01" cy="502.05" r="3.0"/><circle cx="486.43" cy="536.35" r="3.0"/><circle cx="552.06" cy="478.46" r="3.0"/><circle cx="489.53" cy="534.74" r="3.0"/><circle cx="537.35" cy="489.31" r="3.0"/><circle cx="555.69" cy="477.92" r="3.0"/><circle cx="549.78" cy="485.44" r="3.0"/><circle cx="482.05" cy="540.69" r="3.0"/><circle cx="476.38" cy="539.4" r="3.0"/><circle cx="534.32" cy="495.32" r="3.0"/><circle cx="495.38" cy="524.17" r="3.0"/><circle cx="498.55" cy="529.56" r="3.0"/><circle cx="488.28" cy="533.03" r="3.0"/><circle cx="492.89" cy="530.55" r="3.0"/><circle cx="521.69" cy="501.36" r="3.0"/><circle cx="497.4" cy="530.06" r="3.0"/><circle cx="552.84" cy="478.98" r="3.0"/><circle cx="496.44" cy="525.18" r="3.0"/><circle cx="511.8" cy="510.66" r="3.0"/><circle cx="505.11" cy="517.75" r="3.0"/><circle cx="522.8" cy="501.26" r="3.0"/><circle cx="550.54" cy="478.02" r="3.0"/><circle cx="558.33" cy="478.41" r="3.0"/><circle cx="523.87" cy="508.89" r="3.0"/><circle cx="485.23" cy="534.43" r="3.0"/><circle cx="552.22" cy="479.54" r="3.0"/><circle cx="534.01" cy="493.92" r="3.0"/><circle cx="528.37" cy="499.7" r="3.0"/><circle cx="514.98" cy="511.07" r="3.0"/><circle cx="559.97" cy="477.15" r="3.0"/><circle cx="479.57" cy="546.04" r="3.0"/><circle cx="551.34" cy="482.52" r="3.0"/><circle cx="537.15" cy="494.47" r="3.0"/><circle cx="552.63" cy="486.6" r="3.0"/><circle cx="503.63" cy="523.78" r="3.0"/><circle cx="548.81" cy="491.3" r="3.0"/><circle cx="509.31" cy="513.06" r="3.0"/><circle cx="522.86" cy="512.63" r="3.0"/><circle cx="527.4" cy="504.63" r="3.0"/><circle cx="526" cy="497.51" r="3.0"/><circle cx="480" cy="545.83" r="3.0"/><circle cx="549.57" cy="490.53" r="3.0"/><circle cx="536.38" cy="498.38" r="3.0"/><circle cx="523.57" cy="498.81" r="3.0"/><circle cx="511.35" cy="512.62" r="3.0"/><circle cx="538.29" cy="492.84" r="3.0"/><circle cx="475.61" cy="547.31" r="3.0"/><circle cx="493.05" cy="531.79" r="3.0"/><circle cx="533.78" cy="501.13" r="3.0"/><circle cx="553.11" cy="478.88" r="3.0"/><circle cx="495.28" cy="523.18" r="3.0"/><circle cx="532.02" cy="496.2" r="3.0"/><circle cx="490.64" cy="526.1" r="3.0"/><circle cx="530.44" cy="489.34" r="3.0"/><circle cx="511.47" cy="510.43" r="3.0"/><circle cx="530.96" cy="499.83" r="3.0"/><circle cx="490.29" cy="538.34" r="3.0"/><circle cx="552.56" cy="476.06" r="3.0"/><circle cx="549.61" cy="486.27" r="3.0"/><circle cx="500.56" cy="518.65" r="3.0"/><circle cx="484.87" cy="543.45" r="3.0"/><circle cx="546.86" cy="483.97" r="3.0"/><circle cx="534.9" cy="490.68" r="3.0"/><circle cx="487.73" cy="534.28" r="3.0"/><circle cx="512.23" cy="513.35" r="3.0"/><circle cx="509.04" cy="512.47" r="3.0"/><circle cx="527.46" cy="504.1" r="3.0"/><circle cx="546.03" cy="484.7" r="3.0"/><circle cx="558.46" cy="476.21" r="3.0"/><circle cx="475.76" cy="542.59" r="3.0"/><circle cx="548.96" cy="475.69" r="3.0"/><circle cx="522.66" cy="502.42" r="3.0"/><circle cx="499.91" cy="522.86" r="3.0"/><circle cx="484.84" cy="536.42" r="3.0"/><circle cx="512.59" cy="504.32" r="3.0"/><circle cx="493.67" cy="526.96" r="3.0"/><circle cx="485.27" cy="529.23" r="3.0"/><circle cx="511.87" cy="511.35" r="3.0"/><circle cx="527.83" cy="504.46" r="3.0"/><circle cx="556.41" cy="481.75" r="3.0"/><circle cx="532.58" cy="494.43" r="3.0"/><circle cx="488.56" cy="527.7" r="3.0"/><circle cx="473.95" cy="548.77" r="3.0"/><circle cx="488.6" cy="531.24" r="3.0"/><circle cx="496.72" cy="529.61" r="3.0"/><circle cx="518.3" cy="502.18" r="3.0"/><circle cx="526.48" cy="500.88" r="3.0"/><circle cx="541.92" cy="492.69" r="3.0"/><circle cx="551.87" cy="472.44" r="3.0"/><circle cx="535.87" cy="487.9" r="3.0"/><circle cx="484.32" cy="541.96" r="3.0"/><circle cx="552.19" cy="477.95" r="3.0"/><circle cx="505.8" cy="526.48" r="3.0"/><circle cx="542.34" cy="491.73" r="3.0"/><circle cx="555.18" cy="483.33" r="3.0"/><circle cx="490.85" cy="529.14" r="3.0"/><circle cx="535.83" cy="490.66" r="3.0"/><circle cx="535.46" cy="499.39" r="3.0"/><circle cx="491.58" cy="520.73" r="3.0"/><circle cx="558.06" cy="479.63" r="3.0"/><circle cx="519.74" cy="505.66" r="3.0"/><circle cx="552.2" cy="483.51" r="3.0"/><circle cx="547.48" cy="484.72" r="3.0"/><circle cx="511.38" cy="512.07" r="3.0"/><circle cx="520.9" cy="505.1" r="3.0"/><circle cx="475.49" cy="548.03" r="3.0"/><circle cx="543.42" cy="479.69" r="3.0"/><circle cx="488.06" cy="529.79" r="3.0"/><circle cx="502.17" cy="520.64" r="3.0"/><circle cx="485.95" cy="537.02" r="3.0"/><circle cx="517.96" cy="509.52" r="3.0"/><circle cx="533" cy="504.03" r="3.0"/><circle cx="555.31" cy="483.17" r="3.0"/><circle cx="480.5" cy="538.66" r="3.0"/><circle cx="492.28" cy="533.02" r="3.0"/><circle cx="536.43" cy="493.42" r="3.0"/><circle cx="528.61" cy="507.75" r="3.0"/><circle cx="521.74" cy="506.2" r="3.0"/><circle cx="500.14" cy="529.18" r="3.0"/><circle cx="551.37" cy="474.6" r="3.0"/><circle cx="491.14" cy="523.45" r="3.0"/><circle cx="518.63" cy="516.82" r="3.0"/><circle cx="522.87" cy="502.38" r="3.0"/><circle cx="516.8" cy="503.84" r="3.0"/><circle cx="525.68" cy="492.46" r="3.0"/><circle cx="517.92" cy="506.12" r="3.0"/><circle cx="507.87" cy="514.68" r="3.0"/><circle cx="515.74" cy="515.37" r="3.0"/><circle cx="533.14" cy="490.48" r="3.0"/><circle cx="509.02" cy="513.31" r="3.0"/><circle cx="556.27" cy="473.24" r="3.0"/><circle cx="514.19" cy="512.87" r="3.0"/><circle cx="484.06" cy="543.68" r="3.0"/><circle cx="551.37" cy="477.12" r="3.0"/><circle cx="514.48" cy="512.19" r="3.0"/><circle cx="526.78" cy="498.17" r="3.0"/><circle cx="553.53" cy="473.34" r="3.0"/><circle cx="475" cy="539.2" r="3.0"/><circle cx="489.91" cy="530.41" r="3.0"/><circle cx="501.04" cy="515.45" r="3.0"/><circle cx="503.94" cy="521.27" r="3.0"/><circle cx="536.61" cy="494.08" r="3.0"/><circle cx="483.7" cy="539.88" r="3.0"/><circle cx="490.22" cy="531.33" r="3.0"/><circle cx="519.16" cy="511.09" r="3.0"/><circle cx="508.99" cy="513.89" r="3.0"/><circle cx="519.08" cy="505.58" r="3.0"/><circle cx="527.95" cy="497.31" r="3.0"/><circle cx="528.57" cy="507.83" r="3.0"/><circle cx="526.24" cy="502.86" r="3.0"/><circle cx="547.56" cy="482.79" r="3.0"/><circle cx="543.54" cy="479.67" r="3.0"/><circle cx="551.56" cy="481.82" r="3.0"/><circle cx="553.31" cy="475.29" r="3.0"/><circle cx="492" cy="520.38" r="3.0"/><circle cx="484.67" cy="535.81" r="3.0"/><circle cx="493.84" cy="528.61" r="3.0"/><circle cx="481.46" cy="541.78" r="3.0"/><circle cx="545.42" cy="492.26" r="3.0"/><circle cx="483.98" cy="532.58" r="3.0"/><circle cx="508.06" cy="516.66" r="3.0"/><circle cx="490.5" cy="531.65" r="3.0"/><circle cx="532.39" cy="486.9" r="3.0"/><circle cx="483.06" cy="543.21" r="3.0"/><circle cx="517.02" cy="508.63" r="3.0"/><circle cx="532.68" cy="501.15" r="3.0"/><circle cx="489.46" cy="529.84" r="3.0"/><circle cx="476.27" cy="541.77" r="3.0"/><circle cx="521.02" cy="511.31" r="3.0"/><circle cx="485.77" cy="535.34" r="3.0"/><circle cx="489.07" cy="529.64" r="3.0"/><circle cx="559.18" cy="469.71" r="3.0"/><circle cx="553.67" cy="477.21" r="3.0"/><circle cx="555.81" cy="475.85" r="3.0"/><circle cx="513.22" cy="511.68" r="3.0"/><circle cx="513.65" cy="515.62" r="3.0"/><circle cx="517.85" cy="513.65" r="3.0"/><circle cx="474.17" cy="541.86" r="3.0"/><circle cx="534.01" cy="493.25" r="3.0"/><circle cx="512.52" cy="514.96" r="3.0"/><circle cx="537.35" cy="494.47" r="3.0"/><circle cx="487.38" cy="531.83" r="3.0"/><circle cx="517.62" cy="499.15" r="3.0"/><circle cx="542.77" cy="486.64" r="3.0"/><circle cx="534.33" cy="490.54" r="3.0"/><circle cx="508.21" cy="521" r="3.0"/><circle cx="525.19" cy="511.38" r="3.0"/><circle cx="543.05" cy="487.67" r="3.0"/><circle cx="495.49" cy="520.53" r="3.0"/><circle cx="540.71" cy="493.14" r="3.0"/><circle cx="543.9" cy="494.45" r="3.0"/><circle cx="549.57" cy="476.64" r="3.0"/><circle cx="533.47" cy="494.44" r="3.0"/><circle cx="508.32" cy="523.62" r="3.0"/><circle cx="535.89" cy="489.59" r="3.0"/><circle cx="513.81" cy="509.82" r="3.0"/><circle cx="473.94" cy="548.51" r="3.0"/><circle cx="527.31" cy="495.38" r="3.0"/><circle cx="493.21" cy="522.46" r="3.0"/><circle cx="502.41" cy="523.25" r="3.0"/><circle cx="530.42" cy="502.75" r="3.0"/><circle cx="506.92" cy="519.59" r="3.0"/><circle cx="560.02" cy="477.12" r="3.0"/><circle cx="539.3" cy="495.81" r="3.0"/><circle cx="558.29" cy="470.04" r="3.0"/><circle cx="537.3" cy="491.21" r="3.0"/><circle cx="495.35" cy="528.03" r="3.0"/><circle cx="490.02" cy="530.45" r="3.0"/><circle cx="505.71" cy="515.53" r="3.0"/><circle cx="551.82" cy="478.1" r="3.0"/><circle cx="520.88" cy="514.96" r="3.0"/><circle cx="522.44" cy="504.98" r="3.0"/><circle cx="559.6" cy="477.65" r="3.0"/><circle cx="479.65" cy="546" r="3.0"/><circle cx="525.01" cy="502.2" r="3.0"/><circle cx="553.95" cy="479.63" r="3.0"/><circle cx="486.93" cy="536.5" r="3.0"/><circle cx="516.13" cy="509.16" r="3.0"/><circle cx="526.2" cy="492.04" r="3.0"/><circle cx="509.62" cy="511.19" r="3.0"/><circle cx="518.85" cy="510.84" r="3.0"/><circle cx="497.88" cy="527.2" r="3.0"/><circle cx="530.02" cy="501.49" r="3.0"/><circle cx="535.37" cy="495.04" r="3.0"/><circle cx="498.78" cy="520.71" r="3.0"/><circle cx="476.74" cy="542" r="3.0"/><circle cx="486.64" cy="533.95" r="3.0"/><circle cx="551.11" cy="485.05" r="3.0"/><circle cx="538.13" cy="482.14" r="3.0"/><circle cx="555.19" cy="473.13" r="3.0"/><circle cx="479.41" cy="536.18" r="3.0"/><circle cx="514.57" cy="513.55" r="3.0"/><circle cx="557.69" cy="474.97" r="3.0"/><circle cx="554.57" cy="472.38" r="3.0"/><circle cx="535.9" cy="502.5" r="3.0"/><circle cx="544.08" cy="484.04" r="3.0"/><circle cx="525.54" cy="497.18" r="3.0"/><circle cx="512.67" cy="508.4" r="3.0"/><circle cx="490.74" cy="525.54" r="3.0"/><circle cx="483.84" cy="534.66" r="3.0"/><circle cx="511.55" cy="515.84" r="3.0"/><circle cx="495.83" cy="530.72" r="3.0"/><circle cx="523.68" cy="510.11" r="3.0"/><circle cx="519.2" cy="503.36" r="3.0"/><circle cx="559.82" cy="469.47" r="3.0"/><circle cx="493.76" cy="530.3" r="3.0"/><circle cx="482.93" cy="531.09" r="3.0"/><circle cx="527.4" cy="505.15" r="3.0"/><circle cx="504.27" cy="520.38" r="3.0"/><circle cx="522.17" cy="497.95" r="3.0"/><circle cx="524.5" cy="507.67" r="3.0"/><circle cx="489.53" cy="537.19" r="3.0"/><circle cx="494.68" cy="518.16" r="3.0"/><circle cx="549.48" cy="483.24" r="3.0"/><circle cx="476.46" cy="539.25" r="3.0"/><circle cx="510.01" cy="513.39" r="3.0"/><circle cx="527.26" cy="495.98" r="3.0"/><circle cx="479.33" cy="536.82" r="3.0"/><circle cx="480.54" cy="541.65" r="3.0"/><circle cx="527.93" cy="504.87" r="3.0"/><circle cx="505.49" cy="521.48" r="3.0"/><circle cx="502.92" cy="520.17" r="3.0"/><circle cx="537.82" cy="490.73" r="3.0"/><circle cx="483.44" cy="538.21" r="3.0"/><circle cx="543.42" cy="492.42" r="3.0"/><circle cx="491.56" cy="535.32" r="3.0"/><circle cx="509.94" cy="515.18" r="3.0"/><circle cx="505.12" cy="510.69" r="3.0"/><circle cx="404.2" cy="610.8" r="3.0"/><circle cx="412.5" cy="614" r="3.0"/><circle cx="415.9" cy="611.1" r="3.0"/><circle cx="423.6" cy="600.5" r="3.0"/><circle cx="427.1" cy="595.5" r="3.0"/><circle cx="430.5" cy="594.7" r="3.0"/><circle cx="436.4" cy="588.7" r="3.0"/><circle cx="438.3" cy="590.6" r="3.0"/><circle cx="444" cy="579.4" r="3.0"/><circle cx="455" cy="577.7" r="3.0"/><circle cx="456.7" cy="575.2" r="3.0"/><circle cx="461.8" cy="571" r="3.0"/><circle cx="466.9" cy="565.9" r="3.0"/><circle cx="466.9" cy="554" r="3.0"/><circle cx="469.4" cy="553.2" r="3.0"/><circle cx="477.1" cy="543.9" r="3.0"/><circle cx="477.9" cy="550.6" r="3.0"/><circle cx="618.2" cy="408.7" r="3.0"/><circle cx="612" cy="411.8" r="3.0"/><circle cx="621.3" cy="418" r="3.0"/><circle cx="620.5" cy="425" r="3.0"/><circle cx="629.8" cy="425" r="3.0"/><circle cx="596.5" cy="423.4" r="3.0"/><circle cx="603.5" cy="422.6" r="3.0"/><circle cx="604.2" cy="426.5" r="3.0"/><circle cx="584.1" cy="426.5" r="3.0"/><circle cx="607.3" cy="438.1" r="3.0"/><circle cx="595" cy="439.7" r="3.0"/><circle cx="581.8" cy="440.4" r="3.0"/><circle cx="575.6" cy="438.1" r="3.0"/><circle cx="590.3" cy="445.9" r="3.0"/><circle cx="571.7" cy="449" r="3.0"/><circle cx="580.2" cy="452.8" r="3.0"/><circle cx="577.2" cy="455.9" r="3.0"/><circle cx="574.1" cy="459" r="3.0"/><circle cx="562.4" cy="457.5" r="3.0"/><circle cx="568.6" cy="461.3" r="3.0"/><circle cx="558.6" cy="462.1" r="3.0"/><circle cx="557" cy="465.2" r="3.0"/><circle cx="582.6" cy="466" r="3.0"/><circle cx="565.5" cy="470.6" r="3.0"/><circle cx="543.2" cy="471.5" r="3.0"/><circle cx="560.9" cy="472.2" r="3.0"/><circle cx="549.3" cy="476" r="3.0"/><circle cx="553.9" cy="483.8" r="3.0"/><circle cx="557.8" cy="477.6" r="3.0"/><circle cx="493.8" cy="518.7" r="3.0"/><circle cx="484" cy="530.7" r="3.0"/><circle cx="475.7" cy="545" r="3.0"/><circle cx="477.9" cy="553.2" r="3.0"/><circle cx="466.4" cy="553.7" r="3.0"/><circle cx="470.8" cy="553.2" r="3.0"/><circle cx="467" cy="565.2" r="3.0"/><circle cx="461.5" cy="571.2" r="3.0"/><circle cx="454.4" cy="576.7" r="3.0"/><circle cx="524" cy="519.7" r="3.0"/><circle cx="494.2" cy="518.8" r="3.0"/><circle cx="483.7" cy="530.2" r="3.0"/><circle cx="535.3" cy="479.4" r="3.0"/><circle cx="526.6" cy="494.3" r="3.0"/><circle cx="554.6" cy="483.8" r="3.0"/></g>
</g>
<line x1="399.2" y1="393.9" x2="638" y2="393.9" stroke="#1e1e1e" stroke-width="1.6"/>
<line x1="399.2" y1="625.3" x2="638" y2="625.3" stroke="#1e1e1e" stroke-width="1.6"/>
<line x1="400" y1="393.1" x2="400" y2="626.1" stroke="#1e1e1e" stroke-width="1.4"/>
<line x1="637.2" y1="393.1" x2="637.2" y2="626.1" stroke="#1e1e1e" stroke-width="1.6"/>
<line x1="439.4" y1="625.3" x2="439.4" y2="631.3" stroke="#111" stroke-width="1.3"/>
<text transform="translate(439.4 651.2) scale(1 1.035)" text-anchor="middle" font-family="'DejaVu Sans', sans-serif" font-size="18.6" fill="#111">−20</text>
<line x1="518.5" y1="625.3" x2="518.5" y2="631.3" stroke="#111" stroke-width="1.3"/>
<text transform="translate(518.5 651.2) scale(1 1.035)" text-anchor="middle" font-family="'DejaVu Sans', sans-serif" font-size="18.6" fill="#111">0</text>
<line x1="597.6" y1="625.3" x2="597.6" y2="631.3" stroke="#111" stroke-width="1.3"/>
<text transform="translate(597.6 651.2) scale(1 1.035)" text-anchor="middle" font-family="'DejaVu Sans', sans-serif" font-size="18.6" fill="#111">20</text>
<line x1="394" y1="625.31" x2="400" y2="625.31" stroke="#111" stroke-width="1.3"/>
<text transform="translate(388.9 632.01) scale(1 1.035)" text-anchor="end" font-family="'DejaVu Sans', sans-serif" font-size="18.6" fill="#111">−30</text>
<line x1="394" y1="586.74" x2="400" y2="586.74" stroke="#111" stroke-width="1.3"/>
<text transform="translate(388.9 593.44) scale(1 1.035)" text-anchor="end" font-family="'DejaVu Sans', sans-serif" font-size="18.6" fill="#111">−20</text>
<line x1="394" y1="548.17" x2="400" y2="548.17" stroke="#111" stroke-width="1.3"/>
<text transform="translate(388.9 554.87) scale(1 1.035)" text-anchor="end" font-family="'DejaVu Sans', sans-serif" font-size="18.6" fill="#111">−10</text>
<line x1="394" y1="509.6" x2="400" y2="509.6" stroke="#111" stroke-width="1.3"/>
<text transform="translate(388.9 516.3) scale(1 1.035)" text-anchor="end" font-family="'DejaVu Sans', sans-serif" font-size="18.6" fill="#111">0</text>
<line x1="394" y1="471.03" x2="400" y2="471.03" stroke="#111" stroke-width="1.3"/>
<text transform="translate(388.9 477.73) scale(1 1.035)" text-anchor="end" font-family="'DejaVu Sans', sans-serif" font-size="18.6" fill="#111">10</text>
<line x1="394" y1="432.46" x2="400" y2="432.46" stroke="#111" stroke-width="1.3"/>
<text transform="translate(388.9 439.16) scale(1 1.035)" text-anchor="end" font-family="'DejaVu Sans', sans-serif" font-size="18.6" fill="#111">20</text>
<line x1="394" y1="393.89" x2="400" y2="393.89" stroke="#111" stroke-width="1.3"/>
<text transform="translate(388.9 400.59) scale(1 1.035)" text-anchor="end" font-family="'DejaVu Sans', sans-serif" font-size="18.6" fill="#111">30</text>
<text transform="translate(53 16.8)" font-size="20.5" text-anchor="start" font-family="'Liberation Sans', Arial, sans-serif" fill="#111" textLength="16.8" lengthAdjust="spacingAndGlyphs">a)</text>
<text transform="translate(405 15.8)" font-size="20.5" text-anchor="start" font-family="'Liberation Sans', Arial, sans-serif" fill="#111" textLength="18.4" lengthAdjust="spacingAndGlyphs">b)</text>
<text transform="translate(53 374.3)" font-size="20.5" text-anchor="start" font-family="'Liberation Sans', Arial, sans-serif" fill="#111" textLength="16.2" lengthAdjust="spacingAndGlyphs">c)</text>
<text transform="translate(399.2 373.9)" font-size="20.5" text-anchor="start" font-family="'Liberation Sans', Arial, sans-serif" fill="#111" textLength="17.8" lengthAdjust="spacingAndGlyphs">d)</text>
<text transform="translate(100.96 323.6) scale(1 1.04)" font-size="20" text-anchor="start" font-family="'Liberation Sans', Arial, sans-serif" fill="#111" textLength="46.74" lengthAdjust="spacingAndGlyphs">Error</text>
<text transform="translate(153.2 323.6) scale(1 1.04)" font-size="20" text-anchor="start" font-family="'Liberation Sans', Arial, sans-serif" fill="#111" textLength="5.81" lengthAdjust="spacingAndGlyphs">/</text>
<text transform="translate(164.84 323.6) scale(1 1.04)" font-size="20" text-anchor="start" font-family="'Liberation Sans', Arial, sans-serif" fill="#111" textLength="40.85" lengthAdjust="spacingAndGlyphs">True</text>
<text transform="translate(212.08 323.6) scale(1 1.04)" font-size="20" text-anchor="start" font-family="'Liberation Sans', Arial, sans-serif" fill="#111" textLength="39.89" lengthAdjust="spacingAndGlyphs">MAE</text>
<text transform="translate(97.66 675.2) scale(1 1.04)" font-size="20" text-anchor="start" font-family="'Liberation Sans', Arial, sans-serif" fill="#111" textLength="46.74" lengthAdjust="spacingAndGlyphs">Error</text>
<text transform="translate(149.9 675.2) scale(1 1.04)" font-size="20" text-anchor="start" font-family="'Liberation Sans', Arial, sans-serif" fill="#111" textLength="5.81" lengthAdjust="spacingAndGlyphs">/</text>
<text transform="translate(161.54 675.2) scale(1 1.04)" font-size="20" text-anchor="start" font-family="'Liberation Sans', Arial, sans-serif" fill="#111" textLength="40.85" lengthAdjust="spacingAndGlyphs">True</text>
<text transform="translate(208.78 675.2) scale(1 1.04)" font-size="20" text-anchor="start" font-family="'Liberation Sans', Arial, sans-serif" fill="#111" textLength="39.89" lengthAdjust="spacingAndGlyphs">MAE</text>
<text transform="translate(51.18 338.9)" font-size="21.6" text-anchor="start" font-family="'Liberation Sans', Arial, sans-serif" fill="#111" textLength="59.17" lengthAdjust="spacingAndGlyphs">Lorem</text>
<text transform="translate(115.36 338.9)" font-size="21.6" text-anchor="start" font-family="'Liberation Sans', Arial, sans-serif" fill="#111" textLength="56.93" lengthAdjust="spacingAndGlyphs">ipsum</text>
<text transform="translate(383.3 323.9) scale(1 1.04)" font-size="20" text-anchor="start" font-family="'Liberation Sans', Arial, sans-serif" fill="#111" textLength="94.9" lengthAdjust="spacingAndGlyphs">Reference</text>
<text transform="translate(484.2 323.9) scale(1 1.04)" font-size="20" text-anchor="start" font-family="'Liberation Sans', Arial, sans-serif" fill="#111" textLength="61.34" lengthAdjust="spacingAndGlyphs">Values</text>
<text transform="translate(551.76 323.9) scale(1 1.04)" font-size="20" text-anchor="start" font-family="'Liberation Sans', Arial, sans-serif" fill="#111" textLength="93.88" lengthAdjust="spacingAndGlyphs">(eV/atom)</text>
<text transform="translate(404.79 680.8) scale(1 1.04)" font-size="20" text-anchor="start" font-family="'Liberation Sans', Arial, sans-serif" fill="#111" textLength="95.72" lengthAdjust="spacingAndGlyphs">Reference</text>
<text transform="translate(506.49 680.8) scale(1 1.04)" font-size="20" text-anchor="start" font-family="'Liberation Sans', Arial, sans-serif" fill="#111" textLength="62.76" lengthAdjust="spacingAndGlyphs">Values</text>
<text transform="translate(575.51 680.8) scale(1 1.04)" font-size="20" text-anchor="start" font-family="'Liberation Sans', Arial, sans-serif" fill="#111" textLength="58.51" lengthAdjust="spacingAndGlyphs">(eV/<tspan font-style="italic">Å</tspan>)</text>
<text transform="translate(333.8 274.82) rotate(-90) scale(1 1.04)" font-size="20" text-anchor="start" font-family="'Liberation Sans', Arial, sans-serif" fill="#111" textLength="37.77" lengthAdjust="spacingAndGlyphs">MLE</text>
<text transform="translate(333.8 230.74) rotate(-90) scale(1 1.04)" font-size="20" text-anchor="start" font-family="'Liberation Sans', Arial, sans-serif" fill="#111" textLength="93.54" lengthAdjust="spacingAndGlyphs">Prediction</text>
<text transform="translate(333.8 130.64) rotate(-90) scale(1 1.04)" font-size="20" text-anchor="start" font-family="'Liberation Sans', Arial, sans-serif" fill="#111" textLength="94.19" lengthAdjust="spacingAndGlyphs">(eV/atom)</text>
<text transform="translate(337.8 610.29) rotate(-90) scale(1 1.04)" font-size="20" text-anchor="start" font-family="'Liberation Sans', Arial, sans-serif" fill="#111" textLength="37.24" lengthAdjust="spacingAndGlyphs">MLE</text>
<text transform="translate(337.8 566.34) rotate(-90) scale(1 1.04)" font-size="20" text-anchor="start" font-family="'Liberation Sans', Arial, sans-serif" fill="#111" textLength="93.96" lengthAdjust="spacingAndGlyphs">Prediction</text>
<text transform="translate(337.8 466.38) rotate(-90) scale(1 1.04)" font-size="20" text-anchor="start" font-family="'Liberation Sans', Arial, sans-serif" fill="#111" textLength="58.09" lengthAdjust="spacingAndGlyphs">(eV/<tspan font-style="italic">Å</tspan>)</text>
</svg>
</body></html>
